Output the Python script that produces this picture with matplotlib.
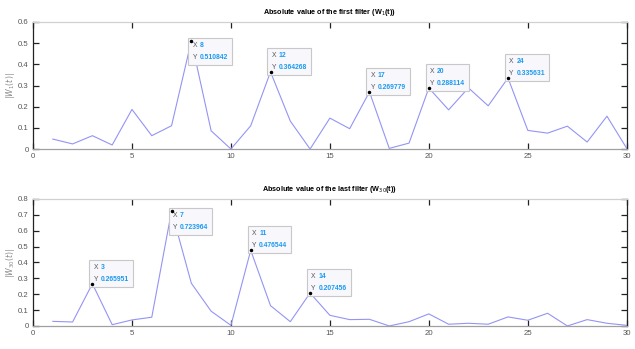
import numpy as np
import matplotlib
matplotlib.use('Agg')
import matplotlib.pyplot as plt
from matplotlib.offsetbox import TextArea, HPacker, VPacker, AnnotationBbox

plt.rcParams['font.family'] = ['Liberation Sans', 'DejaVu Sans']

# ---- data ----
t = np.arange(1, 31)
w_first = [0.047, 0.024, 0.063, 0.019, 0.187, 0.063, 0.110, 0.510842, 0.086, 0.000,
           0.110, 0.364268, 0.132, 0.000, 0.146, 0.096, 0.269779, 0.003, 0.028, 0.288114,
           0.185, 0.289, 0.204, 0.335631, 0.088, 0.075, 0.108, 0.033, 0.155, 0.003]
w_last = [0.029, 0.025, 0.265951, 0.008, 0.038, 0.055, 0.723964, 0.269, 0.093, 0.004,
          0.476544, 0.128, 0.027, 0.207456, 0.067, 0.040, 0.042, 0.000, 0.027, 0.076,
          0.011, 0.017, 0.011, 0.057, 0.036, 0.080, 0.000, 0.040, 0.017, 0.004]
tips_first = [8, 12, 17, 20, 24]
tips_last = [3, 7, 11, 14]
below_first = [8]     # data tips drawn under the point
below_last = [7]

line_col = '#9494f5'
gray = '#555555'
blue = '#1a9af0'


def datatip(ax, x, y, below):
    fs = 4.9
    r1 = HPacker(children=[TextArea('X', textprops=dict(color=gray, size=fs)),
                           TextArea(f'{x:g}', textprops=dict(color=blue, size=fs, weight='bold'))],
                 pad=0, sep=2)
    r2 = HPacker(children=[TextArea('Y', textprops=dict(color=gray, size=fs)),
                           TextArea(f'{y:g}', textprops=dict(color=blue, size=fs, weight='bold'))],
                 pad=0, sep=2)
    box = VPacker(children=[r1, r2], pad=0, sep=3.5)
    ab = AnnotationBbox(box, (x, y), xybox=(0.8, -0.8 if below else 0.8), xycoords='data',
                        boxcoords='offset points', box_alignment=(0, 1 if below else 0),
                        pad=0.4, frameon=True,
                        bboxprops=dict(boxstyle='square', fc='#f7f7fc', ec='#c8c8c8', lw=0.8))
    ax.add_artist(ab)
    ax.plot([x], [y], 'o', color='black', ms=1.5, zorder=5)


def style(ax, ymax, yticks):
    ax.set_xlim(0, 30)
    ax.set_ylim(0, ymax)
    ax.set_xticks(range(0, 31, 5))
    ax.set_yticks(yticks)
    ax.set_yticklabels([f'{v:g}' for v in yticks])
    ax.tick_params(direction='in', top=True, right=True, length=4, width=0.9,
                   labelsize=5.6, colors='#222222', labelcolor=gray, pad=3)
    ax.spines['left'].set_color('#222222')
    ax.spines['right'].set_color('#222222')
    ax.spines['top'].set_color('#d0d0d0')
    ax.spines['bottom'].set_color('#a0a0a0')
    for s in ax.spines.values():
        s.set_linewidth(0.9)


fig = plt.figure(figsize=(6.35, 3.49), dpi=100)
ax1 = fig.add_axes([0.052, 0.573, 0.935, 0.364])
ax2 = fig.add_axes([0.052, 0.066, 0.935, 0.364])

ax1.plot(t, w_first, '-', color=line_col, lw=0.8)
style(ax1, 0.6, np.arange(0, 0.61, 0.1).round(1))
ax1.set_title(r'Absolute value of the first filter (W$_1$(t))', fontsize=5.2,
              fontweight='bold', pad=6)
ax1.set_ylabel(r'$|W_1(t)|$', fontsize=5.6, color='#888888', labelpad=0.5)
for x in tips_first:
    datatip(ax1, x, w_first[x - 1], x in below_first)

ax2.plot(t, w_last, '-', color=line_col, lw=0.8)
style(ax2, 0.8, np.arange(0, 0.81, 0.1).round(1))
ax2.set_title(r'Absolute value of the last filter (W$_{30}$(t))', fontsize=5.2,
              fontweight='bold', pad=6)
ax2.set_ylabel(r'$|W_{30}(t)|$', fontsize=5.6, color='#888888', labelpad=0.5)
for x in tips_last:
    datatip(ax2, x, w_last[x - 1], x in below_last)

fig.savefig('out.png', dpi=100)
